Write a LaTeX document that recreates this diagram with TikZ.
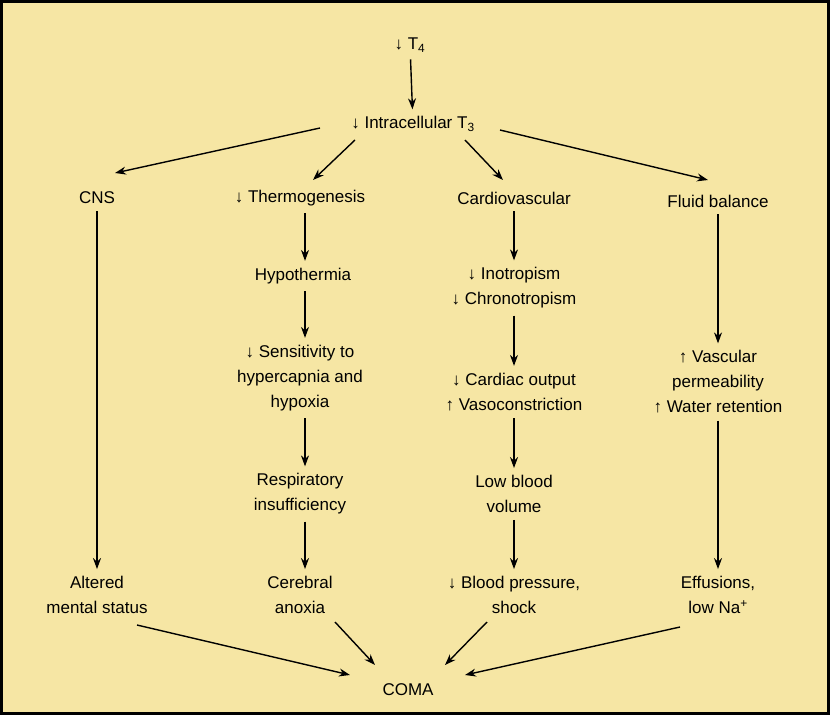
\documentclass[tikz,border=0pt]{standalone}
\usepackage{fontspec}
\setmainfont{Liberation Sans}
\usetikzlibrary{arrows.meta}
\definecolor{bg}{HTML}{F6E6A4}
\begin{document}
\begin{tikzpicture}[x=1pt,y=-1pt,
  t/.style={align=center,font=\fontsize{17}{25}\selectfont,inner sep=7pt},
  a/.style={-{Stealth[length=11pt,width=8pt]},line width=1.4pt}]
\fill[bg] (0,0) rectangle (830,715);
\draw[line width=3pt] (1.5,1.5) rectangle (828.5,713.5);
\useasboundingbox (0,0) rectangle (830,715);
\node[t] (t4) at (410,45) {↓ T\textsubscript{4}};
\node[t] (t3) at (413,124) {↓ Intracellular T\textsubscript{3}};
\node[t] (cns) at (97,198) {CNS};
\node[t] (th) at (300,198) {↓ Thermogenesis};
\node[t] (cv) at (514,198) {Cardiovascular};
\node[t] (fb) at (718,201) {Fluid balance};
\node[t] (hy) at (303,276) {Hypothermia};
\node[t] (se) at (300,378) {↓ Sensitivity to\\hypercapnia and\\hypoxia};
\node[t] (ri) at (300,494) {Respiratory\\insufficiency};
\node[t] (ca) at (300,595) {Cerebral\\anoxia};
\node[t] (am) at (97,595) {Altered\\mental status};
\node[t] (in) at (514,288) {↓ Inotropism\\↓ Chronotropism};
\node[t] (co) at (514,392) {↓ Cardiac output\\↑ Vasoconstriction};
\node[t] (lb) at (514,494) {Low blood\\volume};
\node[t] (bp) at (514,595) {↓ Blood pressure,\\shock};
\node[t] (vp) at (718,382) {↑ Vascular\\permeability\\↑ Water retention};
\node[t] (ef) at (718,595) {Effusions,\\low Na\textsuperscript{+}};
\node[t] (coma) at (408,690) {COMA};
\coordinate (s1) at (320,128); \coordinate (e1) at (115,173);
\coordinate (s2) at (355,140); \coordinate (e2) at (313,180);
\coordinate (s3) at (465,140); \coordinate (e3) at (503,180);
\coordinate (s4) at (500,130); \coordinate (e4) at (708,180);
\draw[a] (t4) -- (t3);
\draw[a] (s1) -- (e1);
\draw[a] (s2) -- (e2);
\draw[a] (s3) -- (e3);
\draw[a] (s4) -- (e4);
\draw[a] (cns) -- (am);
\draw[a] ([xshift=5pt]th.south) -- ([xshift=2pt]hy.north);
\draw[a] ([xshift=2pt]hy.south) -- ([xshift=5pt]se.north);
\draw[a] ([xshift=5pt]se.south) -- ([xshift=5pt]ri.north);
\draw[a] ([xshift=5pt]ri.south) -- ([xshift=5pt]ca.north);
\draw[a] (cv) -- (in);
\draw[a] (in) -- (co);
\draw[a] (co) -- (lb);
\draw[a] (lb) -- (bp);
\draw[a] (fb) -- (vp);
\draw[a] (vp) -- (ef);
\coordinate (b1) at (137,625); \coordinate (c1) at (350,675);
\coordinate (b2) at (335,622); \coordinate (c2) at (375,665);
\coordinate (b3) at (487,622); \coordinate (c3) at (445,665);
\coordinate (b4) at (680,627); \coordinate (c4) at (465,675);
\draw[a] (b1) -- (c1);
\draw[a] (b2) -- (c2);
\draw[a] (b3) -- (c3);
\draw[a] (b4) -- (c4);
\end{tikzpicture}
\end{document}
